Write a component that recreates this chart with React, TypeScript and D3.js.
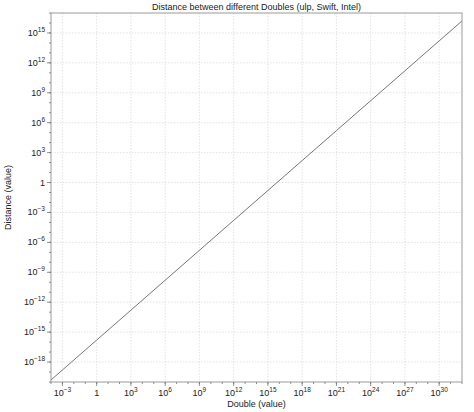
import React from 'react';
import * as d3 from 'd3';

// distance to the next Double (ulp) at selected values
const doubleValues = [1e-4, 1e-3, 1, 1e3, 1e6, 1e9, 1e12, 1e15, 1e18, 1e21, 1e24, 1e27, 1e30, 1e32];
const distances = [1.6e-20, 1.6e-19, 1.6e-16, 1.6e-13, 1.6e-10, 1.6e-7, 1.6e-4, 0.16, 160, 1.6e5, 1.6e8, 1.6e11, 1.6e14, 1.6e16];

const xTickExps = [-3, 0, 3, 6, 9, 12, 15, 18, 21, 24, 27, 30];
const yTickExps = [-18, -15, -12, -9, -6, -3, 0, 3, 6, 9, 12, 15];
const xDomain = [1e-4, 1e32];
const yDomain = [1e-20, 1e17];

const title = 'Distance between different Doubles (ulp, Swift, Intel)';
const xTitle = 'Double (value)';
const yTitle = 'Distance (value)';

const width = 474;
const height = 412;
const margin = { top: 13, right: 12, bottom: 30, left: 51 };
const font = '"Liberation Sans", Arial, Helvetica, sans-serif';

const TickLabel = ({ exp, x, y, anchor }: { exp: number; x: number; y: number; anchor: string }) => {
  if (exp === 0) {
    return (
      <text x={x} y={y} textAnchor={anchor} fontSize={9} fill="#222" fontFamily={font}>1</text>
    );
  }
  const e = exp < 0 ? '\u2212' + Math.abs(exp) : String(exp);
  return (
    <text x={x} y={y} textAnchor={anchor} fontSize={9} fill="#222" fontFamily={font}>
      10<tspan dy={-4} fontSize={6.5}>{e}</tspan>
    </text>
  );
};

const App = () => {
  const x0 = margin.left;
  const x1 = width - margin.right;
  const y0 = margin.top;
  const y1 = height - margin.bottom;

  const x = d3.scaleLog().domain(xDomain).range([x0, x1]);
  const y = d3.scaleLog().domain(yDomain).range([y1, y0]);

  const line = d3
    .line<number>()
    .x((_, i) => x(doubleValues[i]))
    .y(d => y(d));

  const xMinor = d3.range(-4, 33).map(e => Math.pow(10, e));
  const yMinor = d3.range(-20, 18).map(e => Math.pow(10, e));

  return (
    <svg width={width} height={height} style={{ position: 'absolute', left: 0, top: 0 }}>
      <rect width={width} height={height} fill="#fff" />
      <text x={(x0 + x1) / 2} y={10} textAnchor="middle" fontSize={9} fill="#222" fontFamily={font}>
        {title}
      </text>

      <g stroke="#dcdcdc" strokeWidth={0.8} strokeDasharray="1.5,1.5">
        {xTickExps.map(e => (
          <line key={'gx' + e} x1={x(Math.pow(10, e))} x2={x(Math.pow(10, e))} y1={y0} y2={y1} />
        ))}
        {yTickExps.map(e => (
          <line key={'gy' + e} x1={x0} x2={x1} y1={y(Math.pow(10, e))} y2={y(Math.pow(10, e))} />
        ))}
      </g>

      <path d={line(distances) || ''} fill="none" stroke="#666" strokeWidth={0.9} />

      <rect x={x0} y={y0} width={x1 - x0} height={y1 - y0} fill="none" stroke="#9a9a9a" strokeWidth={1} />

      <g stroke="#777" strokeWidth={0.8}>
        {xMinor.map((v, i) => (
          <line key={'mx' + i} x1={x(v)} x2={x(v)} y1={y1} y2={y1 + 2} />
        ))}
        {xTickExps.map(e => (
          <line key={'tx' + e} x1={x(Math.pow(10, e))} x2={x(Math.pow(10, e))} y1={y1} y2={y1 + 4} />
        ))}
        {yMinor.map((v, i) => (
          <line key={'my' + i} x1={x0 - 2} x2={x0} y1={y(v)} y2={y(v)} />
        ))}
        {yTickExps.map(e => (
          <line key={'ty' + e} x1={x0 - 4} x2={x0} y1={y(Math.pow(10, e))} y2={y(Math.pow(10, e))} />
        ))}
      </g>

      {xTickExps.map(e => (
        <TickLabel key={'lx' + e} exp={e} x={x(Math.pow(10, e))} y={y1 + 14} anchor="middle" />
      ))}
      {yTickExps.map(e => (
        <TickLabel key={'ly' + e} exp={e} x={x0 - 6} y={y(Math.pow(10, e)) + 3} anchor="end" />
      ))}

      <text x={(x0 + x1) / 2} y={407} textAnchor="middle" fontSize={9} fill="#222" fontFamily={font}>
        {xTitle}
      </text>
      <text
        transform={`translate(11, ${(y0 + y1) / 2}) rotate(-90)`}
        textAnchor="middle"
        fontSize={9}
        fill="#222"
        fontFamily={font}
      >
        {yTitle}
      </text>
    </svg>
  );
};

export default App;
